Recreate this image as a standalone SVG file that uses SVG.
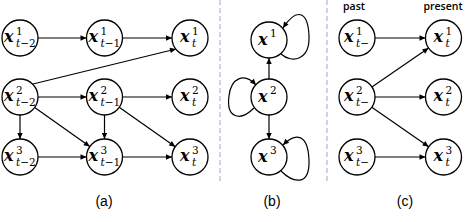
<svg xmlns="http://www.w3.org/2000/svg" width="474" height="222" viewBox="0 0 474 222">
<style>
.n{fill:#fff;stroke:#000;stroke-width:1.3}
.e{fill:none;stroke:#000;stroke-width:1.2}
.x{font-family:"DejaVu Serif",serif;font-weight:bold;font-style:italic;font-size:16px;fill:#000}
.s{font-family:"DejaVu Serif",serif;font-size:10.5px;fill:#000}
.i{font-style:italic}
.cap{font-family:"Liberation Sans",Arial,sans-serif;font-size:14px;fill:#000;text-anchor:middle}
.hd{font-family:"Open Sans",sans-serif;font-weight:600;font-size:10.5px;fill:#000;text-anchor:middle}
.d{stroke:#9aacd0;stroke-width:1;stroke-dasharray:5 3}
</style>
<defs>
<marker id="ah" viewBox="0 0 10 10" refX="10" refY="5" markerWidth="7" markerHeight="6" markerUnits="userSpaceOnUse" orient="auto">
<path d="M0,0.5 L10,5 L0,9.5 z" fill="#000"/>
</marker>
</defs>
<g id="separators">
<line class="d" x1="220" y1="0" x2="220" y2="181"/>
<line class="d" x1="327" y1="0" x2="327" y2="181"/>
</g>
<g id="connectors">
<line class="e" x1="38" y1="38" x2="86.5" y2="38" marker-end="url(#ah)"/>
<line class="e" x1="122.5" y1="38" x2="172" y2="38" marker-end="url(#ah)"/>
<line class="e" x1="38" y1="97" x2="86.5" y2="97" marker-end="url(#ah)"/>
<line class="e" x1="122.5" y1="97" x2="172" y2="97" marker-end="url(#ah)"/>
<line class="e" x1="38" y1="157" x2="86.5" y2="157" marker-end="url(#ah)"/>
<line class="e" x1="122.5" y1="157" x2="172" y2="157" marker-end="url(#ah)"/>
<line class="e" x1="20" y1="115" x2="20" y2="139" marker-end="url(#ah)"/>
<line class="e" x1="104.5" y1="115" x2="104.5" y2="139" marker-end="url(#ah)"/>
<line class="e" x1="34.7" y1="107.4" x2="89.8" y2="146.6" marker-end="url(#ah)"/>
<line class="e" x1="119.2" y1="107.3" x2="175.3" y2="146.7" marker-end="url(#ah)"/>
<line class="e" x1="33" y1="84" x2="176" y2="49" marker-end="url(#ah)"/>
<line class="e" x1="269" y1="79" x2="269" y2="58" marker-end="url(#ah)"/>
<line class="e" x1="269" y1="115" x2="269" y2="139" marker-end="url(#ah)"/>
<path class="e" d="M281,54 C292,64 310,60 309,36 C308,10 296,8 283,28" marker-end="url(#ah)"/>
<path class="e" d="M254,108 C240,122 226,118 229,96 C231,78 244,72 256,85" marker-end="url(#ah)"/>
<path class="e" d="M281,171 C292,182 310,188 309,160 C308,134 296,132 283,145" marker-end="url(#ah)"/>
<line class="e" x1="375" y1="38" x2="425.5" y2="38" marker-end="url(#ah)"/>
<line class="e" x1="375" y1="97" x2="425.5" y2="97" marker-end="url(#ah)"/>
<line class="e" x1="375" y1="157" x2="425.5" y2="157" marker-end="url(#ah)"/>
<line class="e" x1="371.9" y1="86.9" x2="428.6" y2="48.1" marker-end="url(#ah)"/>
<line class="e" x1="371.8" y1="107.3" x2="428.7" y2="146.7" marker-end="url(#ah)"/>
</g>
<g id="a11"><circle class="n" cx="20" cy="38" r="18"/><text class="x" x="4" y="42">x</text><text class="s" x="16" y="35">1</text><text class="s" x="16" y="47"><tspan class="i">t</tspan>−2</text></g>
<g id="a12"><circle class="n" cx="104.5" cy="38" r="18"/><text class="x" x="88.5" y="42">x</text><text class="s" x="100.5" y="35">1</text><text class="s" x="100.5" y="47"><tspan class="i">t</tspan>−1</text></g>
<g id="a13"><circle class="n" cx="190" cy="38" r="18"/><text class="x" x="180" y="42">x</text><text class="s" x="192" y="35">1</text><text class="s" x="192" y="47" font-style="italic">t</text></g>
<g id="a21"><circle class="n" cx="20" cy="97" r="18"/><text class="x" x="4" y="101">x</text><text class="s" x="16" y="94">2</text><text class="s" x="16" y="106"><tspan class="i">t</tspan>−2</text></g>
<g id="a22"><circle class="n" cx="104.5" cy="97" r="18"/><text class="x" x="88.5" y="101">x</text><text class="s" x="100.5" y="94">2</text><text class="s" x="100.5" y="106"><tspan class="i">t</tspan>−1</text></g>
<g id="a23"><circle class="n" cx="190" cy="97" r="18"/><text class="x" x="180" y="101">x</text><text class="s" x="192" y="94">2</text><text class="s" x="192" y="106" font-style="italic">t</text></g>
<g id="a31"><circle class="n" cx="20" cy="157" r="18"/><text class="x" x="4" y="161">x</text><text class="s" x="16" y="154">3</text><text class="s" x="16" y="166"><tspan class="i">t</tspan>−2</text></g>
<g id="a32"><circle class="n" cx="104.5" cy="157" r="18"/><text class="x" x="88.5" y="161">x</text><text class="s" x="100.5" y="154">3</text><text class="s" x="100.5" y="166"><tspan class="i">t</tspan>−1</text></g>
<g id="a33"><circle class="n" cx="190" cy="157" r="18"/><text class="x" x="180" y="161">x</text><text class="s" x="192" y="154">3</text><text class="s" x="192" y="166" font-style="italic">t</text></g>
<g id="b1"><circle class="n" cx="269" cy="40" r="18"/><text class="x" x="258" y="45">x</text><text class="s" x="270" y="37">1</text></g>
<g id="b2"><circle class="n" cx="269" cy="97" r="18"/><text class="x" x="258" y="102">x</text><text class="s" x="270" y="94">2</text></g>
<g id="b3"><circle class="n" cx="269" cy="157" r="18"/><text class="x" x="258" y="162">x</text><text class="s" x="270" y="154">3</text></g>
<g id="c11"><circle class="n" cx="357" cy="38" r="18"/><text class="x" x="344" y="42">x</text><text class="s" x="356" y="35">1</text><text class="s" x="356" y="47"><tspan class="i">t</tspan>−</text></g>
<g id="c12"><circle class="n" cx="443.5" cy="38" r="18"/><text class="x" x="433.5" y="42">x</text><text class="s" x="445.5" y="35">1</text><text class="s" x="445.5" y="47" font-style="italic">t</text></g>
<g id="c21"><circle class="n" cx="357" cy="97" r="18"/><text class="x" x="344" y="101">x</text><text class="s" x="356" y="94">2</text><text class="s" x="356" y="106"><tspan class="i">t</tspan>−</text></g>
<g id="c22"><circle class="n" cx="443.5" cy="97" r="18"/><text class="x" x="433.5" y="101">x</text><text class="s" x="445.5" y="94">2</text><text class="s" x="445.5" y="106" font-style="italic">t</text></g>
<g id="c31"><circle class="n" cx="357" cy="157" r="18"/><text class="x" x="344" y="161">x</text><text class="s" x="356" y="154">3</text><text class="s" x="356" y="166"><tspan class="i">t</tspan>−</text></g>
<g id="c32"><circle class="n" cx="443.5" cy="157" r="18"/><text class="x" x="433.5" y="161">x</text><text class="s" x="445.5" y="154">3</text><text class="s" x="445.5" y="166" font-style="italic">t</text></g>
<g id="labels">
<text class="hd" x="354" y="10">past</text>
<text class="hd" x="443" y="10">present</text>
<text class="cap" x="104" y="206">(a)</text>
<text class="cap" x="272" y="206">(b)</text>
<text class="cap" x="405" y="206">(c)</text>
</g>
</svg>
